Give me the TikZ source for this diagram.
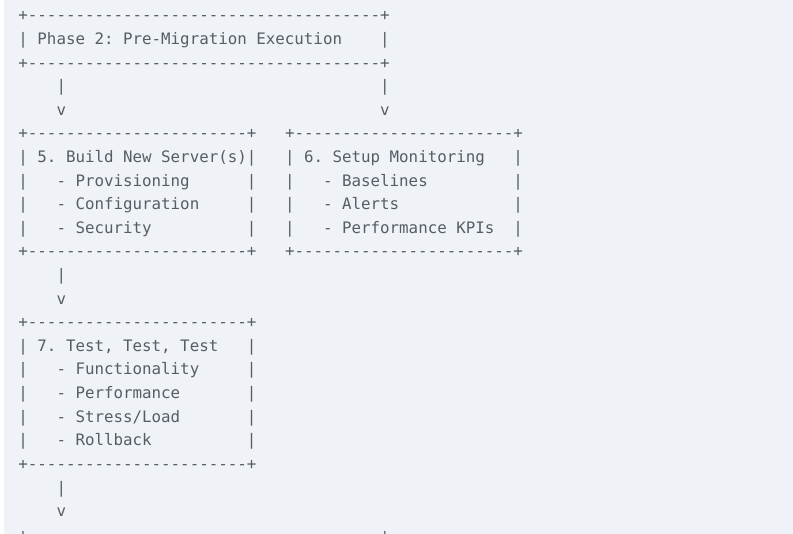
\documentclass[tikz,border=0pt]{standalone}
\usepackage{fontspec}
\setmonofont{DejaVu Sans Mono}
\definecolor{fond}{HTML}{EFF3F8}
\definecolor{encre}{HTML}{585C64}
\newcommand\filet[1]{+\foreach\i in {1,...,#1}{-}+}

\begin{document}
\begin{tikzpicture}[
  x=1pt, y=-1pt,
  car/.style={anchor=base west, inner sep=0pt, text=encre,
              font=\ttfamily\fontsize{15.81}{23.6}\selectfont},
]
\useasboundingbox (0,0) rectangle (793,534);
\fill[white] (0,0) rectangle (793,534);
\fill[fond] (4,0) rectangle (793,534);
\clip (0,0) rectangle (793,534);
\begin{scope}[shift={(18.24pt,-21pt)}, x=9.52pt, y=-23.6pt]
% phase 2
\node[car] (phase-haut) at (0,0) {\filet{37}};
\node[car] (phase-g) at (0,1) {|};
\node[car] (phase) at (2,1) {Phase 2: Pre-Migration Execution};
\node[car] (phase-d) at (38,1) {|};
\node[car] (phase-bas) at (0,2) {\filet{37}};
\node[car] (fg-tige) at (4,3) {|};
\node[car] (fg-pointe) at (4,4) {v};
\node[car] (fd-tige) at (38,3) {|};
\node[car] (fd-pointe) at (38,4) {v};
% 5. serveurs
\node[car] (build-haut) at (0,5) {\filet{23}};
\node[car] (build) at (2,6) {5. Build New Server(s)};
\foreach \ligne [count=\r from 7] in {- Provisioning, - Configuration, - Security}
  \node[car] (build-\r) at (4,\r) {\ligne};
\foreach \r in {6,...,9} {
  \node[car] (build-g\r) at (0,\r) {|};
  \node[car] (build-d\r) at (24,\r) {|};
}
\node[car] (build-bas) at (0,10) {\filet{23}};
% 6. supervision
\node[car] (mon-haut) at (28,5) {\filet{23}};
\node[car] (mon) at (30,6) {6. Setup Monitoring};
\foreach \ligne [count=\r from 7] in {- Baselines, - Alerts, - Performance KPIs}
  \node[car] (mon-\r) at (32,\r) {\ligne};
\foreach \r in {6,...,9} {
  \node[car] (mon-g\r) at (28,\r) {|};
  \node[car] (mon-d\r) at (52,\r) {|};
}
\node[car] (mon-bas) at (28,10) {\filet{23}};
\node[car] (f5-tige) at (4,11) {|};
\node[car] (f5-pointe) at (4,12) {v};
% 7. tests
\node[car] (test-haut) at (0,13) {\filet{23}};
\node[car] (test) at (2,14) {7. Test, Test, Test};
\foreach \ligne [count=\r from 15] in {- Functionality, - Performance, - Stress/Load, - Rollback}
  \node[car] (test-\r) at (4,\r) {\ligne};
\foreach \r in {14,...,18} {
  \node[car] (test-g\r) at (0,\r) {|};
  \node[car] (test-d\r) at (24,\r) {|};
}
\node[car] (test-bas) at (0,19) {\filet{23}};
\node[car] (f7-tige) at (4,20) {|};
\node[car] (f7-pointe) at (4,21) {v};
% suite, coupée
\node[car] (suite-g) at (0,22) {+};
\node[car] (suite-d) at (38,22) {+};
\end{scope}
\end{tikzpicture}
\end{document}
